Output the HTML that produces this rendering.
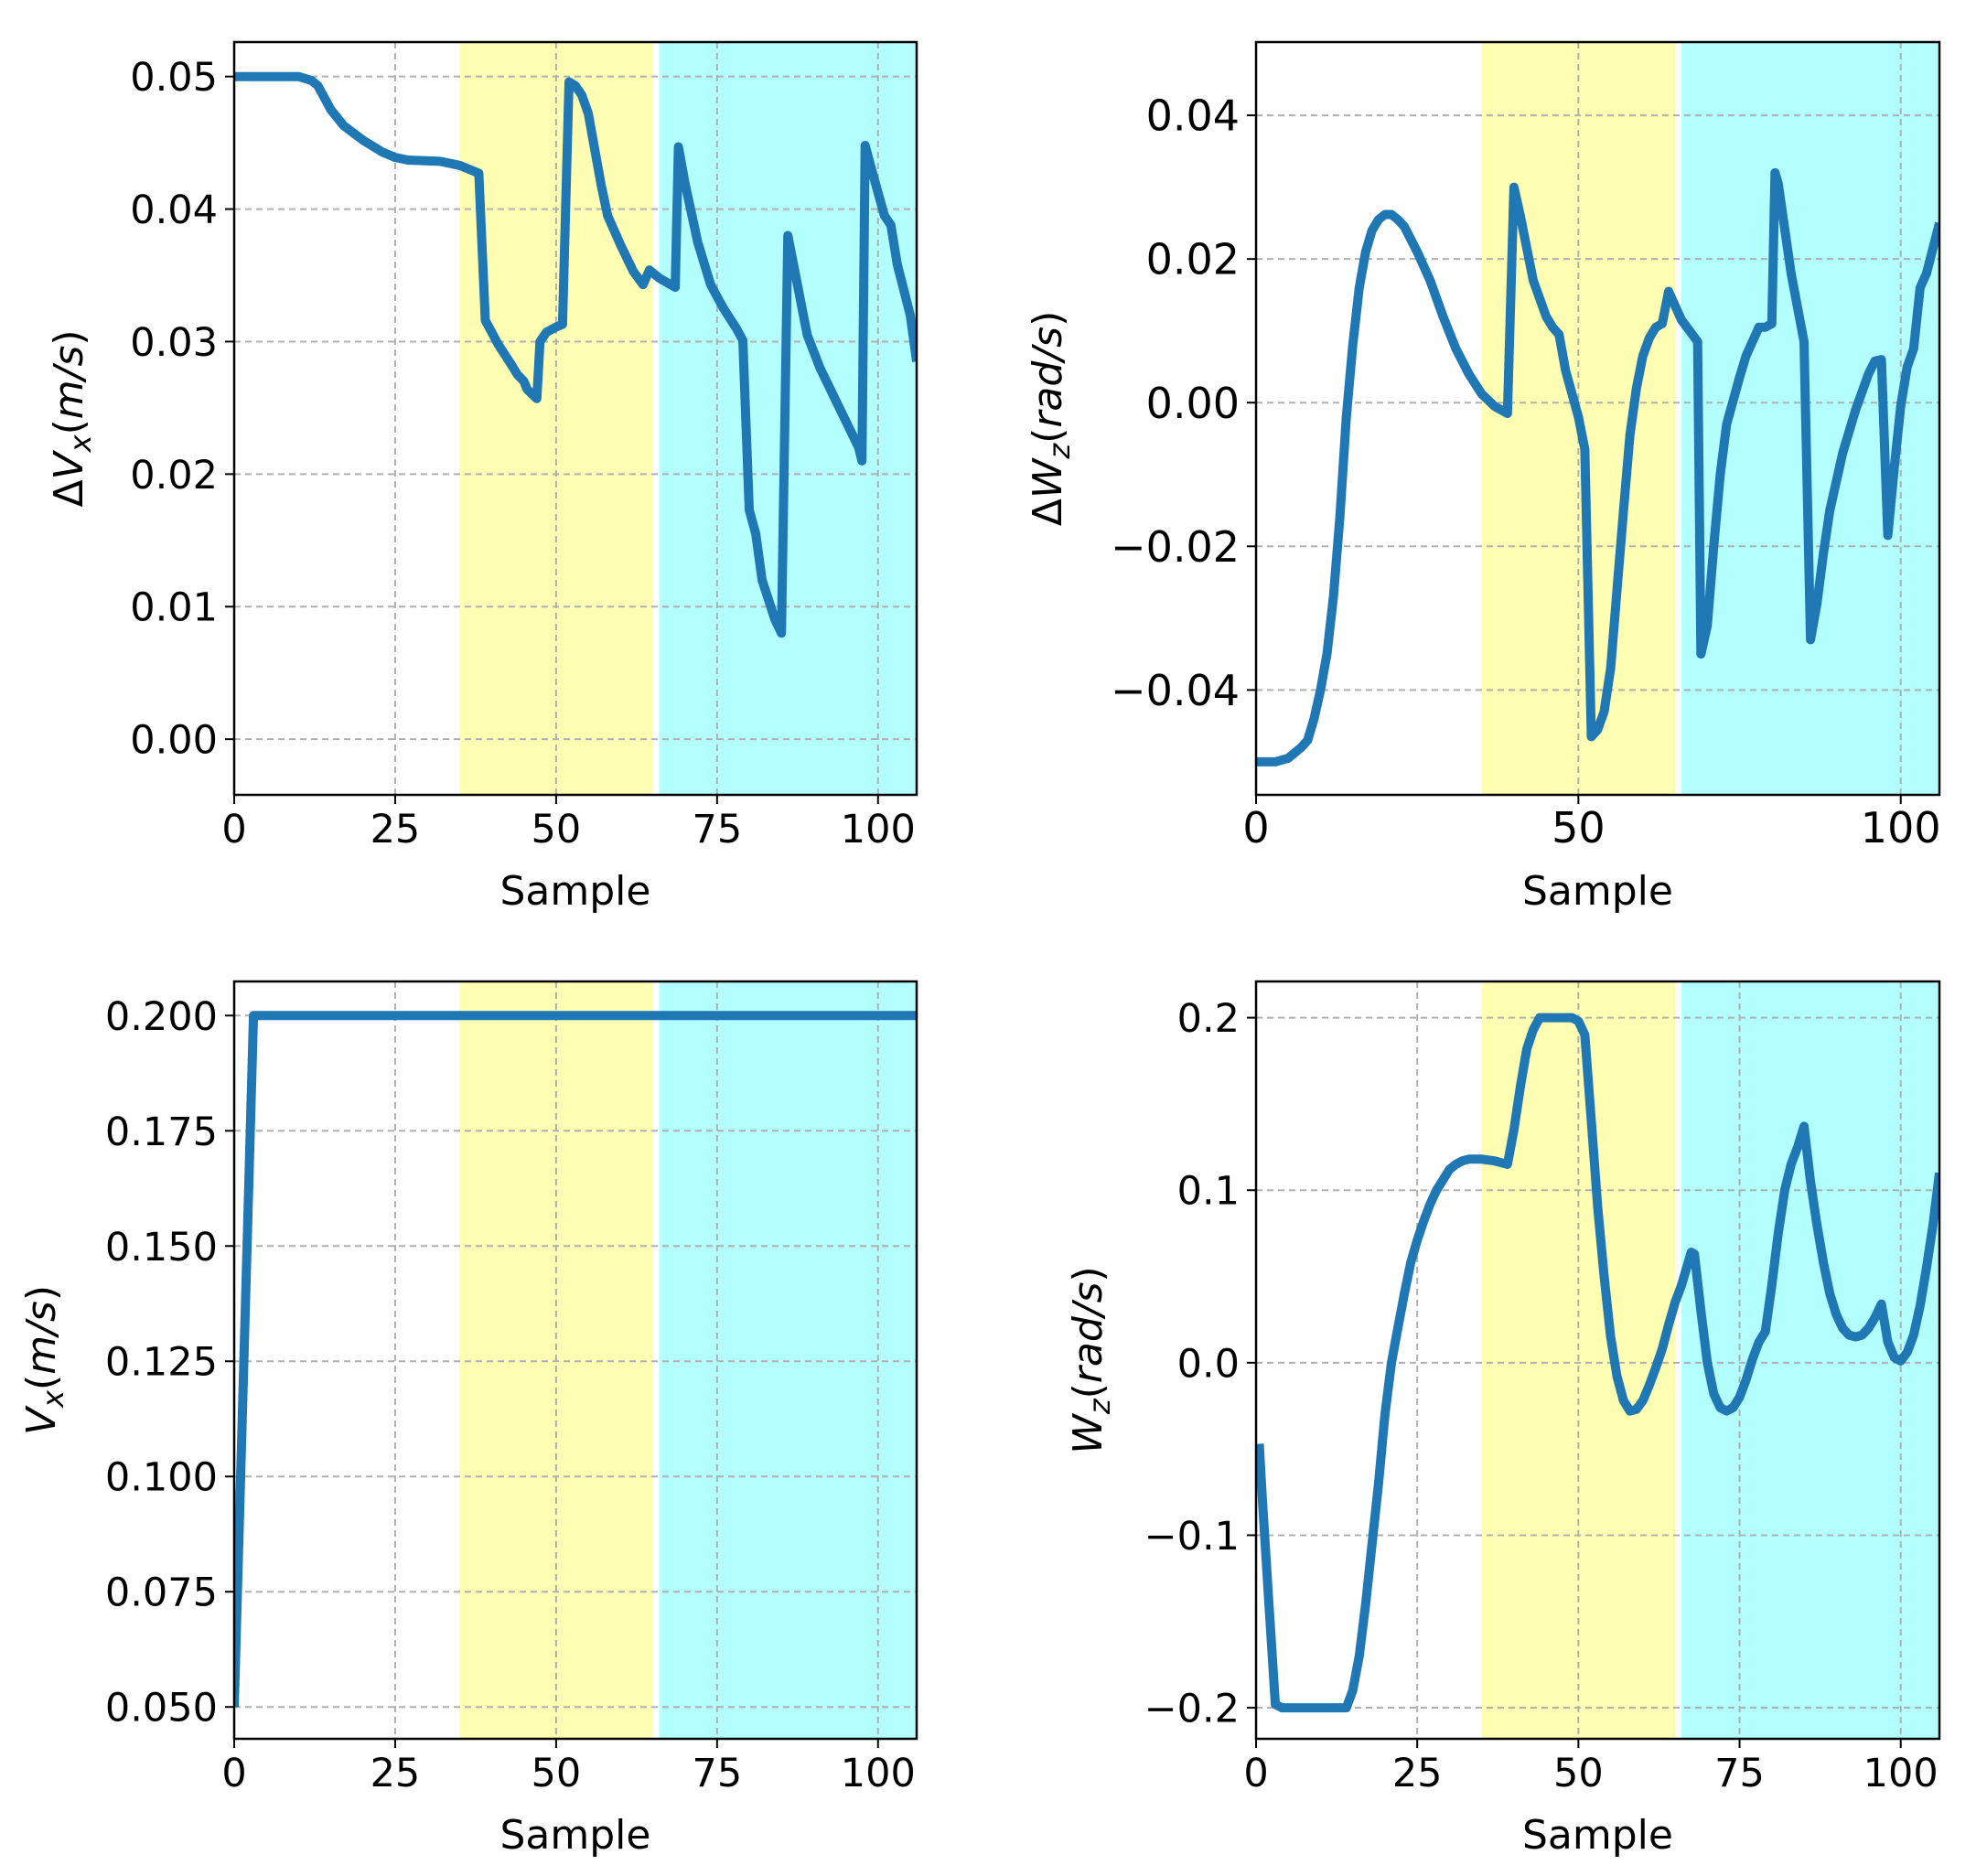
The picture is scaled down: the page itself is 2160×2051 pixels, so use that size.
<!DOCTYPE html>
<html><head><meta charset="utf-8"><style>
html,body{margin:0;padding:0;background:#fff}
svg{display:block}
text{font-family:"DejaVu Sans","Liberation Sans",sans-serif;fill:#000}
</style></head><body>
<svg id="s" width="2160" height="2051" xmlns="http://www.w3.org/2000/svg"></svg>
<script>
const S=document.getElementById('s');let h='';
function ax(o){
 const {x0,x1,y0,y1,ylo,yhi,xt,yt,ylab,labx,data,fs}=o;
 const X=v=>x0+(v-0)/(106-0)*(x1-x0), Y=v=>y1-(v-ylo)/(yhi-ylo)*(y1-y0);
 h+=`<rect x="${X(35)}" y="${y0}" width="${X(65)-X(35)}" height="${y1-y0}" fill="#ffffb3"/>`;
 h+=`<rect x="${X(66)}" y="${y0}" width="${x1-X(66)}" height="${y1-y0}" fill="#b3ffff"/>`;
 for(const t of xt){h+=`<line x1="${X(t)}" x2="${X(t)}" y1="${y0}" y2="${y1}" stroke="#b0b0b0" stroke-width="2" stroke-dasharray="7,5"/>`;
  h+=`<line x1="${X(t)}" x2="${X(t)}" y1="${y1}" y2="${y1+10}" stroke="#000" stroke-width="2"/>`;
  h+=`<text x="${X(t)}" y="${y1+52}" font-size="${fs}" text-anchor="middle">${t}</text>`;}
 for(const [t,l] of yt){h+=`<line y1="${Y(t)}" y2="${Y(t)}" x1="${x0}" x2="${x1}" stroke="#b0b0b0" stroke-width="2" stroke-dasharray="7,5"/>`;
  h+=`<line y1="${Y(t)}" y2="${Y(t)}" x1="${x0-10}" x2="${x0}" stroke="#000" stroke-width="2"/>`;
  h+=`<text x="${x0-18}" y="${Y(t)+fs*0.36}" font-size="${fs}" text-anchor="end">${l}</text>`;}
 h+=`<clipPath id="c${x0}${y0}"><rect x="${x0}" y="${y0}" width="${x1-x0}" height="${y1-y0}"/></clipPath>`;
 h+=`<polyline clip-path="url(#c${x0}${y0})" fill="none" stroke="#1f77b4" stroke-width="10" stroke-linejoin="round" points="${data.map(p=>X(p[0]).toFixed(1)+','+Y(p[1]).toFixed(1)).join(' ')}"/>`;
 h+=`<rect x="${x0}" y="${y0}" width="${x1-x0}" height="${y1-y0}" fill="none" stroke="#000" stroke-width="2.5"/>`;
 h+=`<text x="${(x0+x1)/2}" y="${y1+120}" font-size="44" text-anchor="middle">Sample</text>`;
 h+=`<text transform="translate(${labx},${(y0+y1)/2}) rotate(-90)" font-size="44" text-anchor="middle">${ylab}</text>`;
}
const sub=c=>`<tspan font-style="italic" font-size="32" dy="9">${c}</tspan><tspan dy="-9">(</tspan>`;
const d1=[[0,0.05],[10,0.05],[12,0.0497],[13,0.0493],[15,0.0475],[17,0.0463],[20,0.0452],[23,0.0443],[25,0.0439],[27,0.0437],[32,0.0436],[35,0.0433],[38,0.0427],[39,0.0316],[41,0.0298],[43,0.0283],[44,0.0275],[45,0.027],[45.5,0.0264],[47,0.0257],[47.5,0.03],[48.5,0.0307],[50,0.0311],[51,0.0313],[52,0.0496],[53,0.0493],[54,0.0486],[55,0.0472],[56,0.0445],[57,0.0418],[58,0.0395],[60,0.0373],[62,0.0353],[63.5,0.0343],[64.5,0.0354],[66,0.0348],[68.5,0.0341],[69,0.0447],[70,0.042],[72,0.0375],[74,0.0343],[76,0.0325],[78,0.031],[79,0.0301],[80,0.0173],[81,0.0155],[82,0.012],[84,0.009],[85,0.008],[86,0.038],[87,0.0355],[89,0.0305],[91,0.028],[93,0.026],[95,0.024],[97,0.022],[97.5,0.021],[98,0.0448],[99,0.043],[101,0.0395],[102,0.0388],[103,0.0358],[105,0.032],[106,0.0285]];
const d2=[[0,-0.05],[3,-0.05],[5,-0.0495],[7,-0.048],[8,-0.047],[9,-0.044],[10,-0.04],[11,-0.035],[12,-0.027],[13,-0.016],[14,-0.002],[15,0.008],[16,0.016],[17,0.021],[18,0.024],[19,0.0255],[20,0.0262],[21,0.0262],[22,0.0255],[23,0.0245],[25,0.021],[27,0.017],[29,0.012],[31,0.0075],[33,0.004],[35,0.0012],[37,-0.0005],[39,-0.0015],[40,0.03],[41,0.026],[43,0.017],[44,0.0145],[45,0.012],[46,0.0105],[47,0.0095],[48,0.0045],[50,-0.002],[51,-0.0065],[52,-0.0465],[53,-0.0455],[54,-0.043],[55,-0.037],[56,-0.026],[57,-0.015],[58,-0.0045],[59,0.002],[60,0.0065],[61,0.009],[62,0.0105],[63,0.011],[64,0.0155],[66,0.0115],[68.5,0.0085],[69,-0.035],[70,-0.031],[71,-0.02],[72,-0.01],[73,-0.003],[75,0.0035],[76,0.0065],[77,0.0085],[78,0.0105],[79,0.0105],[80,0.011],[80.5,0.032],[81,0.0305],[83,0.018],[85,0.0085],[86,-0.033],[87,-0.028],[88,-0.021],[89,-0.015],[91,-0.007],[93,-0.001],[95,0.004],[96,0.0058],[97,0.006],[98,-0.0185],[99,-0.009],[100,-0.0005],[101,0.005],[102,0.0075],[103,0.016],[104,0.018],[106,0.025]];
const d4=[[0.5,-0.047],[1,-0.08],[2,-0.14],[3,-0.198],[4,-0.2],[14,-0.2],[15,-0.19],[16,-0.17],[17,-0.14],[18,-0.105],[19,-0.07],[20,-0.03],[21,0],[22,0.02],[23,0.04],[24,0.058],[25,0.071],[26,0.082],[27,0.092],[28,0.1],[29,0.106],[30,0.112],[31,0.115],[32,0.117],[33,0.118],[35,0.118],[37,0.117],[39,0.115],[40,0.135],[41,0.16],[42,0.182],[43,0.193],[44,0.2],[49,0.2],[50,0.198],[51,0.19],[52,0.14],[53,0.09],[54,0.05],[55,0.015],[56,-0.008],[57,-0.022],[58,-0.028],[59,-0.027],[60,-0.022],[61,-0.013],[62,-0.003],[63,0.008],[64,0.022],[65,0.035],[66,0.045],[67.5,0.064],[68,0.063],[69,0.03],[70,0],[71,-0.018],[72,-0.026],[73,-0.028],[74,-0.026],[75,-0.02],[76,-0.01],[77,0.002],[78,0.012],[79,0.018],[80,0.045],[81,0.075],[82,0.1],[83,0.115],[84,0.125],[85,0.137],[86,0.105],[87,0.08],[88,0.058],[89,0.04],[90,0.028],[91,0.02],[92,0.016],[93,0.015],[94,0.016],[95,0.02],[96,0.026],[97,0.034],[98,0.012],[99,0.003],[100,0.001],[101,0.006],[102,0.016],[103,0.033],[104,0.055],[105,0.08],[106,0.11]];
ax({x0:256,x1:1002,y0:46,y1:869,ylo:-0.0042,yhi:0.0526,xt:[0,25,50,75,100],yt:[[0,'0.00'],[0.01,'0.01'],[0.02,'0.02'],[0.03,'0.03'],[0.04,'0.04'],[0.05,'0.05']],ylab:'Δ<tspan font-style="italic">V</tspan>'+sub('x')+'<tspan font-style="italic">m/s</tspan>)',labx:90,data:d1,fs:43});
ax({x0:1373,x1:2120,y0:46,y1:869,ylo:-0.0546,yhi:0.0502,xt:[0,50,100],yt:[[-0.04,'−0.04'],[-0.02,'−0.02'],[0,'0.00'],[0.02,'0.02'],[0.04,'0.04']],ylab:'Δ<tspan font-style="italic">W</tspan>'+sub('z')+'<tspan font-style="italic">rad/s</tspan>)',labx:1160,data:d2,fs:46});
ax({x0:256,x1:1002,y0:1073,y1:1901,ylo:0.0431,yhi:0.2074,xt:[0,25,50,75,100],yt:[[0.05,'0.050'],[0.075,'0.075'],[0.1,'0.100'],[0.125,'0.125'],[0.15,'0.150'],[0.175,'0.175'],[0.2,'0.200']],ylab:'<tspan font-style="italic">V</tspan>'+sub('x')+'<tspan font-style="italic">m/s</tspan>)',labx:60,data:[[0,0.05],[3,0.2],[106,0.2]],fs:43});
ax({x0:1373,x1:2120,y0:1073,y1:1901,ylo:-0.218,yhi:0.221,xt:[0,25,50,75,100],yt:[[-0.2,'−0.2'],[-0.1,'−0.1'],[0,'0.0'],[0.1,'0.1'],[0.2,'0.2']],ylab:'<tspan font-style="italic">W</tspan>'+sub('z')+'<tspan font-style="italic">rad/s</tspan>)',labx:1204,data:d4,fs:43});
S.innerHTML=h;
</script>
</body></html>
